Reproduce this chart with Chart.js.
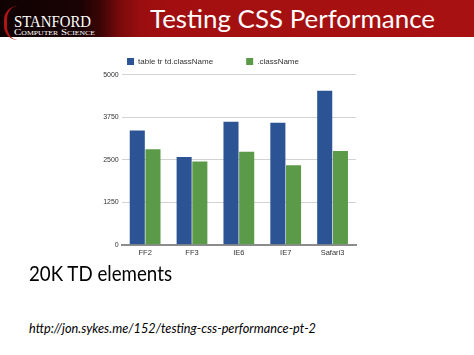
<!DOCTYPE html>
<html><head><meta charset="utf-8">
<script src="https://cdn.jsdelivr.net/npm/chart.js@4"></script>
<style>
html,body{margin:0;padding:0;background:#fff;width:474px;height:355px;overflow:hidden;position:relative}
#hdr{position:absolute;left:0;top:0;width:474px;height:37px;
background:linear-gradient(90deg,#100203 0px,#1a0304 80px,#3a0506 100px,#7a0a0b 120px,#990e0f 140px,#a30f10 170px,#a81112 474px);}
.t{position:absolute;white-space:nowrap;transform-origin:0 0;}
#swoosh{position:absolute;left:4px;top:6px;width:12px;height:34px;border-left:3px solid #b01518;border-radius:14px 0 0 14px;}
#wrap{position:absolute;left:70px;top:50px;width:300px;height:215px;}
</style></head>
<body>
<div id="hdr"></div>
<div id="swoosh"></div>
<div class="t" data-w="77" style="left:14px;top:12.5px;font-family:'Liberation Serif';font-size:17px;line-height:17px;color:#fff">STANFORD</div>
<div class="t" data-w="81" style="left:14px;top:27.5px;font-family:'Liberation Serif';font-variant:small-caps;font-size:8.5px;line-height:8.5px;color:#fff">Computer Science</div>
<div class="t" data-w="285" style="left:150px;top:6px;font-family:Lato;font-size:25px;line-height:25px;color:#fff">Testing CSS Performance</div>
<div id="wrap"><canvas id="c"></canvas></div>
<div class="t" data-w="143" style="left:29px;top:262px;font-family:Lato;font-size:21px;line-height:21px;color:#000">20K TD elements</div>
<div class="t" data-w="287" style="left:29px;top:323px;font-family:Lato;font-style:italic;font-size:12.5px;line-height:12.5px;color:#000">http://jon.sykes.me/152/testing-css-performance-pt-2</div>
<script>
const categories = ['FF2', 'FF3', 'IE6', 'IE7', 'Safari3'];
const seriesNames = ['table tr td.className', '.className'];
const descendantSelector = [3360, 2580, 3620, 3590, 4530];
const classSelector = [2810, 2450, 2740, 2340, 2760];
const yTicks = [0, 1250, 2500, 3750, 5000];

document.querySelectorAll('.t[data-w]').forEach(el => {
  const w = el.getBoundingClientRect().width;
  el.style.transform = 'scaleX(' + (parseFloat(el.dataset.w) / w) + ')';
});

const legendFix = {
  id: 'legendFix',
  beforeInit(chart) {
    const lg = chart.legend;
    const orig = lg.fit;
    lg.fit = function () { orig.call(this); this.height = 24.8; };
  },
  afterLayout(chart) {
    chart.legend.top = 7.5 - 33;
  }
};

new Chart(document.getElementById('c'), {
  type: 'bar',
  data: {
    labels: categories,
    datasets: [
      { label: seriesNames[0], data: descendantSelector, backgroundColor: '#2c5494' },
      { label: seriesNames[1], data: classSelector, backgroundColor: '#5b9a48' }
    ]
  },
  plugins: [legendFix],
  options: {
    responsive: true,
    maintainAspectRatio: false,
    animation: false,
    devicePixelRatio: 1,
    categoryPercentage: 0.67,
    barPercentage: 0.96,
    layout: { padding: { left: 0, right: 14, top: 0, bottom: 0 } },
    plugins: {
      tooltip: { enabled: false },
      legend: {
        position: 'top',
        labels: {
          boxWidth: 7, boxHeight: 7, padding: 33,
          color: '#333', font: { family: 'Liberation Sans', size: 8 }
        }
      }
    },
    scales: {
      x: {
        grid: { display: false, drawTicks: false },
        border: { display: true, color: '#8c8c8c', width: 2 },
        ticks: { color: '#333', padding: 4, font: { family: 'Liberation Sans', size: 7.5 } },
        afterFit(s) { s.height = 20.2; }
      },
      y: {
        min: 0, max: 5000,
        afterBuildTicks(s) { s.ticks = yTicks.map(v => ({ value: v })); },
        grid: { color: '#d2d2d2', lineWidth: 1, drawTicks: false },
        border: { display: false },
        ticks: { color: '#333', padding: 3, font: { family: 'Liberation Sans', size: 7 }, callback: v => String(v) },
        afterFit(s) { s.width = 51.7; }
      }
    }
  }
});
</script>
</body></html>
